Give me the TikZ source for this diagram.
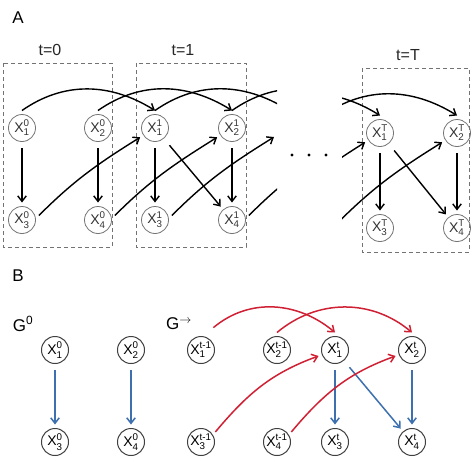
\documentclass[tikz,border=0pt]{standalone}
\usepackage{amsmath}
\usepackage{fontspec}
\setmainfont{Liberation Sans}
\usetikzlibrary{arrows.meta}

\definecolor{edgered}{RGB}{208,32,52}
\definecolor{edgeblue}{RGB}{62,112,176}
\newcommand{\xv}[2]{X$^{\text{#1}}_{\text{#2}}$}

\begin{document}
\begin{tikzpicture}[x=1pt,y=1pt,->,>={Straight Barb[length=5.5pt,width=8.5pt]},line width=1.4pt,
    var node/.style={circle,draw=gray!90!black,line width=0.8pt,text=black!80,minimum size=27pt,inner sep=0pt,outer sep=4pt,font=\fontsize{14}{14}\selectfont},
    net node/.style={var node,draw=black!75,line width=1pt,text=black},
    slice box/.style={-,draw=gray!90!black,line width=0.9pt,dash pattern=on 4pt off 3pt},
    title/.style={font=\fontsize{16}{16}\selectfont,text=black!85},
    panel/.style={font=\fontsize{17}{17}\selectfont},
    red edge/.style={draw=edgered,line width=1.5pt},
    blue edge/.style={draw=edgeblue,line width=1.5pt}]

  \useasboundingbox (0,0) rectangle (474,-467);

  % panel A
  \node[panel] (pa) at (18,-18) {A};
  \node[title] (t0) at (50,-50) {t=0};
  \node[title] (t1) at (183,-50) {t=1};
  \node[title] (tT) at (408,-55) {t=T};

  \draw[slice box] (3,-63) rectangle (112,-247);
  \draw[slice box] (136,-63) rectangle (246,-247);
  \draw[slice box] (362,-68) rectangle (469,-252);

  \node[var node] (a10) at (22,-128) {\xv{0}{1}};
  \node[var node] (a20) at (98,-128) {\xv{0}{2}};
  \node[var node] (a30) at (22,-220) {\xv{0}{3}};
  \node[var node] (a40) at (98,-220) {\xv{0}{4}};
  \node[var node] (a11) at (155,-128) {\xv{1}{1}};
  \node[var node] (a21) at (232,-128) {\xv{1}{2}};
  \node[var node] (a31) at (155,-220) {\xv{1}{3}};
  \node[var node] (a41) at (232,-220) {\xv{1}{4}};
  \node[var node] (a1T) at (380,-133) {\xv{T}{1}};
  \node[var node] (a2T) at (457,-133) {\xv{T}{2}};
  \node[var node] (a3T) at (380,-228) {\xv{T}{3}};
  \node[var node] (a4T) at (457,-228) {\xv{T}{4}};

  % ends of the edges that run into the gap
  \coordinate (n12) at (289,-110.5);
  \coordinate (n22) at (366,-110.5);
  \coordinate (w12) at (274,-137);
  \coordinate (w22) at (351,-137);
  \coordinate (n1T) at (246,-115.5);
  \coordinate (n2T) at (323,-115.5);
  \coordinate (w3T) at (263,-223.5);
  \coordinate (w4T) at (337,-223.5);

  \fill (292,-155) circle (1.6);
  \fill (309,-155) circle (1.6);
  \fill (326,-155) circle (1.6);

  \path (a10) edge [shorten <=2.5pt] (a30)
        (a20) edge [shorten <=2.5pt] (a40)
        (a11) edge [shorten <=2.5pt] (a31)
        (a21) edge [shorten <=2.5pt] (a41)
        (a11) edge [shorten <=5pt] (a41)
        (a1T) edge [shorten <=2.5pt] (a3T)
        (a2T) edge [shorten <=2.5pt] (a4T)
        (a1T) edge [shorten <=5pt] (a4T)
        (a10.north) edge [out=35,in=148] (a11.north)
        (a20.north) edge [out=35,in=148] (a21.north)
        (a30.15) edge [out=45,in=212] (a11)
        (a40.15) edge [out=45,in=212] (a21);

  \begin{scope}
    \clip (0,0) rectangle (277,-467);
    \path (a11.north) edge [out=35,in=148] (n12)
          (a21.north) edge [out=35,in=148] (n22)
          (a31.15) edge [out=45,in=212] (w12)
          (a41.15) edge [out=45,in=212] (w22);
  \end{scope}
  \begin{scope}
    \clip (342,0) rectangle (474,-467);
    \path (n1T) edge [out=35,in=148] (a1T.north)
          (n2T) edge [out=35,in=148] (a2T.north)
          (w3T) edge [out=45,in=212] (a1T)
          (w4T) edge [out=45,in=212] (a2T);
  \end{scope}

  % panel B
  \node[panel] (pb) at (18,-276) {B};
  \node[panel] (g0) at (23,-324) {G$^{\text{0}}$};
  \node[panel] (gt) at (179,-324) {G$^{\rightarrow}$};

  \node[net node] (b10) at (55,-350) {\xv{0}{1}};
  \node[net node] (b20) at (131,-350) {\xv{0}{2}};
  \node[net node] (b30) at (55,-442) {\xv{0}{3}};
  \node[net node] (b40) at (131,-442) {\xv{0}{4}};
  \node[net node] (c1p) at (201,-350) {\xv{t-1}{1}};
  \node[net node] (c2p) at (277,-350) {\xv{t-1}{2}};
  \node[net node] (c3p) at (201,-442) {\xv{t-1}{3}};
  \node[net node] (c4p) at (277,-442) {\xv{t-1}{4}};
  \node[net node] (c1) at (335,-350) {\xv{t}{1}};
  \node[net node] (c2) at (412,-350) {\xv{t}{2}};
  \node[net node] (c3) at (335,-442) {\xv{t}{3}};
  \node[net node] (c4) at (412,-442) {\xv{t}{4}};

  \path (b10) edge [blue edge,shorten <=2.5pt] (b30)
        (b20) edge [blue edge,shorten <=2.5pt] (b40)
        (c1) edge [blue edge,shorten <=2.5pt] (c3)
        (c2) edge [blue edge,shorten <=2.5pt] (c4)
        (c1) edge [blue edge,shorten <=5pt] (c4)
        ([yshift=10pt]c1p.north east) edge [red edge,out=40,in=140] (c1.north)
        (c2p.north) edge [red edge,out=40,in=140] (c2.north)
        (c3p.35) edge [red edge,out=50,in=200] (c1)
        (c4p.35) edge [red edge,out=50,in=200] (c2);

\end{tikzpicture}
\end{document}
